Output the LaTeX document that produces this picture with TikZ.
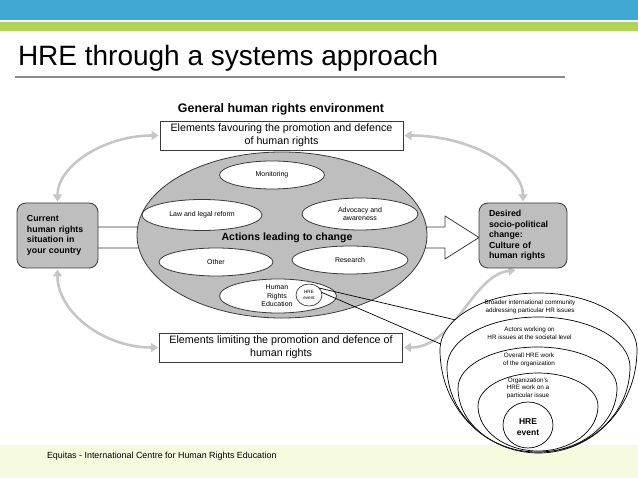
\documentclass[tikz,border=0pt]{standalone}
\usepackage{fontspec}
\setmainfont{Liberation Sans}
\usetikzlibrary{shapes.geometric,arrows.meta,calc}
\pgfdeclarelayer{bglayer}
\pgfsetlayers{bglayer,main}
\definecolor{topblue}{HTML}{41A8D1}
\definecolor{topgreen}{HTML}{B2D35A}
\definecolor{footbg}{HTML}{F6FADF}
\definecolor{fillgray}{HTML}{BEBEBE}
\definecolor{arrgray}{HTML}{C6C6C6}
\definecolor{edgegray}{HTML}{3A3A3A}
\definecolor{rulegray}{HTML}{8C8C8C}
% egg-shaped ring: #1 cx, #2 top, #3 y of widest line, #4 bottom, #5 half width, #6 name
\newcommand{\drawegg}[6]{%
  \draw[nestshape] (#1,#2) coordinate (#6top)
    .. controls ({#1+0.5523*#5},#2) and ({#1+#5},{#3-0.5523*(#3-#2)}) .. ({#1+#5},#3)
    .. controls ({#1+#5},{#3+0.5523*(#4-#3)}) and ({#1+0.5523*#5},#4) .. (#1,#4)
    .. controls ({#1-0.5523*#5},#4) and ({#1-#5},{#3+0.5523*(#4-#3)}) .. ({#1-#5},#3)
    .. controls ({#1-#5},{#3-0.5523*(#3-#2)}) and ({#1-0.5523*#5},#2) .. (#1,#2) -- cycle;}
\begin{document}
\begin{tikzpicture}[x=1pt,y=-1pt,
  every node/.style={inner sep=0pt,outer sep=0pt},
  elembox/.style={draw=edgegray,line width=0.8pt,fill=white,minimum width=243pt,minimum height=29pt,align=center,font=\fontsize{10.7}{12.6}\selectfont},
  sitbox/.style={draw=edgegray,line width=0.8pt,fill=fillgray,rounded corners=9pt,minimum height=65pt,inner xsep=10pt,align=left,font=\bfseries\fontsize{8.8}{10.6}\selectfont},
  actell/.style={ellipse,draw=edgegray,line width=0.8pt,fill=white,align=center,font=\fontsize{7}{8.5}\selectfont},
  nestshape/.style={draw=black,line width=0.7pt,fill=white},
  nesttext/.style={align=center,font=\fontsize{6.3}{8}\selectfont},
  garrow/.style={draw=arrgray,line width=2.6pt,{Triangle[width=9pt,length=7pt]}-{Triangle[width=9pt,length=7pt]},shorten <=1.5pt,shorten >=1.5pt},
  thinline/.style={draw=edgegray,line width=0.8pt}]
\useasboundingbox (0,0) rectangle (638,478);
% header and footer
\fill[topblue] (0,0) rectangle (638,20);
\fill[topgreen] (0,22) rectangle (638,31);
\fill[footbg] (0,445) rectangle (638,478);
\node[anchor=base west,font=\fontsize{28}{30}\selectfont] (title) at (18,66) {HRE through a systems approach};
\coordinate (ruleL) at (15,77);
\coordinate (ruleR) at (565,77);
\draw[rulegray,line width=1.4pt] (ruleL) -- (ruleR);
\node[anchor=base west,font=\fontsize{8.9}{10.6}\selectfont] (foot) at (47,459) {Equitas - International Centre for Human Rights Education};

% heading and boxes
\node[font=\bfseries\fontsize{12.4}{14}\selectfont] (gen) at (281,109) {General human rights environment};
\node[elembox] (fav) at (281.5,135.5) {Elements favouring the promotion and defence\\of human rights};
\node[elembox] (lim) at (281,347.5) {Elements limiting the promotion and defence of\\human rights};
\node[sitbox,text width=61pt] (cur) at (57.5,235.5) {Current\\human rights\\situation in\\your country};
\node[sitbox,text width=68pt,font=\bfseries\fontsize{8.8}{10.4}\selectfont] (des) at (523,235.5) {Desired\\socio-political\\change:\\Culture of\\human rights};

% block arrow and grey feedback arrows, behind everything else
\begin{pgfonlayer}{bglayer}
\draw[thinline,fill=white] (cur.east |- 0,227) -- (445,227) -- (445,216) -- (des.west |- 0,237.5) -- (445,259) -- (445,248) -- (cur.east |- 0,248);
\draw[garrow] (fav.west) .. controls ($(fav.west)+(-56,0)$) and ($(cur.north)+(0,-37)$) .. (cur.north);
\draw[garrow] (fav.east) .. controls ($(fav.east)+(66,0)$) and ($(des.north)+(0,-37)$) .. (des.north);
\draw[garrow] (cur.south) .. controls ($(cur.south)+(0,44)$) and ($(lim.west)+(-56,0)$) .. (lim.west);
\coordinate (desin) at ($(des.south)+(-6,2)$);
\draw[garrow] (lim.east) .. controls ($(lim.east)+(53,0)$) and ($(desin)+(-45,5)$) .. (desin);
\end{pgfonlayer}

% actions ellipse
\node[ellipse,draw=edgegray,line width=0.8pt,fill=fillgray,minimum width=290pt,minimum height=166pt] (act) at (282,235) {};
\node[actell,minimum width=105pt,minimum height=28pt] (mon) at (272,175) {Monitoring};
\node[actell,minimum width=120pt,minimum height=31pt] (law) at (202,215) {Law and legal reform};
\node[actell,minimum width=116pt,minimum height=32pt] (adv) at (360,214) {Advocacy and\\awareness};
\node[font=\bfseries\fontsize{10.5}{12}\selectfont] (actlabel) at (287,238) {Actions leading to change};
\node[actell,minimum width=114pt,minimum height=28pt] (oth) at (216,262) {Other};
\node[actell,minimum width=116pt,minimum height=28pt] (res) at (350,260) {Research};
\node[actell,minimum width=117pt,minimum height=34pt] (hreell) at (278,296) {};
\node[align=center,font=\fontsize{7}{8.6}\selectfont] (hretext) at (277,296) {Human\\Rights\\Education};
\node[ellipse,draw=edgegray,line width=0.7pt,fill=white,minimum width=26pt,minimum height=22pt,align=center,font=\fontsize{4.6}{5.6}\selectfont] (hresm) at (309,295) {HRE\\event};

% zoom cone from the small HRE event to the nested rings
\coordinate (coneA) at (458,320.5);
\coordinate (coneB) at (443,345);
\draw[draw=black,line width=0.7pt] (hresm.35) -- (coneA);
\draw[draw=black,line width=0.7pt] (hresm.12) -- (coneB);

% nested rings
\drawegg{538.5}{293}{350}{453}{98.5}{ringA}
\drawegg{538.5}{317}{367}{452}{91.5}{ringB}
\drawegg{537.5}{347}{388}{452}{79.5}{ringC}
\drawegg{538}{373}{406}{451}{60}{ringD}
\node[ellipse,draw=black,line width=0.7pt,fill=white,minimum width=50pt,minimum height=46pt] (n5) at (528,425) {};
\node[nesttext] (t1) at (530,306.5) {Broader international community\\addressing particular HR issues};
\node[nesttext] (t2) at (529.5,333) {Actors working on\\HR issues at the societal level};
\node[nesttext] (t3) at (529,359.5) {Overall HRE work\\of the organization};
\node[nesttext,font=\fontsize{6.3}{7.6}\selectfont] (t4) at (528,388) {Organization’s\\HRE work on a\\particular issue};
\node[align=center,font=\bfseries\fontsize{8.5}{11}\selectfont] (t5) at (528,427) {HRE\\event};
\end{tikzpicture}
\end{document}
